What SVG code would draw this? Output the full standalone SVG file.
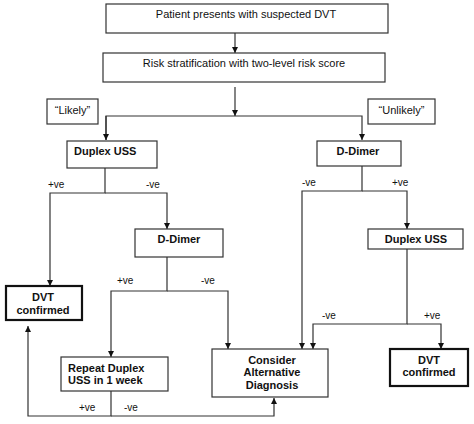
<svg xmlns="http://www.w3.org/2000/svg" width="474" height="424" viewBox="0 0 474 424">
<style>
.box{fill:#fff;stroke:#333;stroke-width:1.2}
.thick{fill:#fff;stroke:#111;stroke-width:2.2}
.t{font-family:"Liberation Sans",Arial,sans-serif;font-size:11px;fill:#111}
.b{font-family:"Liberation Sans",Arial,sans-serif;font-size:11px;font-weight:bold;fill:#111}
.l{font-family:"Liberation Sans",Arial,sans-serif;font-size:10px;fill:#111}
.c{fill:none;stroke:#333;stroke-width:1.2}
</style>
<defs>
<marker id="a" viewBox="0 0 8 8" refX="8" refY="4" markerWidth="6" markerHeight="6" markerUnits="userSpaceOnUse" orient="auto">
<path d="M0,0 L8,4 L0,8 z" fill="#111"/>
</marker>
</defs>
<rect width="474" height="424" fill="#fff"/>
<g id="connectors">
<path class="c" d="M235,33 V53" marker-end="url(#a)"/>
<path class="c" d="M235,87 V116" marker-end="url(#a)"/>
<path class="c" d="M106,140 V116 H362 V140" marker-end="url(#a)"/>
<path class="c" d="M106,116 V140" marker-end="url(#a)"/>
<path class="c" d="M105,168 V193 H50 V286" marker-end="url(#a)"/>
<path class="c" d="M105,193 H167 V229" marker-end="url(#a)"/>
<path class="c" d="M167,257 V291 H111 V357" marker-end="url(#a)"/>
<path class="c" d="M167,291 H228 V349" marker-end="url(#a)"/>
<path class="c" d="M111,391 V416 H28 V326" marker-end="url(#a)"/>
<path class="c" d="M111,416 H274 V398" marker-end="url(#a)"/>
<path class="c" d="M362,166 V191 H302 V349" marker-end="url(#a)"/>
<path class="c" d="M362,191 H407 V229" marker-end="url(#a)"/>
<path class="c" d="M407,249 V324 H313 V349" marker-end="url(#a)"/>
<path class="c" d="M407,324 H441 V349" marker-end="url(#a)"/>
<text class="l" x="48" y="188">+ve</text>
<text class="l" x="146" y="188">-ve</text>
<text class="l" x="117" y="284">+ve</text>
<text class="l" x="201" y="284">-ve</text>
<text class="l" x="79" y="411">+ve</text>
<text class="l" x="124" y="411">-ve</text>
<text class="l" x="302" y="186">-ve</text>
<text class="l" x="392" y="186">+ve</text>
<text class="l" x="322" y="319">-ve</text>
<text class="l" x="424" y="319">+ve</text>
</g>
<g id="n-patient"><rect class="box" x="106" y="4" width="282" height="29"/><text class="t" x="246" y="18" text-anchor="middle">Patient presents with suspected DVT</text></g>
<g id="n-risk"><rect class="box" x="103" y="53" width="282" height="29"/><text class="t" x="244" y="67" text-anchor="middle">Risk stratification with two-level risk score</text></g>
<g id="n-likely"><rect class="box" x="47" y="99" width="51" height="25"/><text class="t" x="72.5" y="114" text-anchor="middle">“Likely”</text></g>
<g id="n-unlikely"><rect class="box" x="368" y="99" width="67" height="25"/><text class="t" x="401.5" y="114" text-anchor="middle">“Unlikely”</text></g>
<g id="n-duplex1"><rect class="box" x="67" y="141" width="90" height="27"/><text class="b" x="74" y="155">Duplex USS</text></g>
<g id="n-ddimer1"><rect class="box" x="135" y="229" width="88" height="28"/><text class="b" x="179" y="243" text-anchor="middle">D-Dimer</text></g>
<g id="n-dvt1"><rect class="thick" x="6" y="286" width="76" height="34"/><text class="b" x="43" y="301" text-anchor="middle">DVT</text><text class="b" x="43" y="314" text-anchor="middle">confirmed</text></g>
<g id="n-repeat"><rect class="box" x="61" y="357" width="107" height="34"/><text class="b" x="68" y="372">Repeat Duplex</text><text class="b" x="68" y="384">USS in 1 week</text></g>
<g id="n-consider"><rect class="box" x="212" y="349" width="116" height="48"/><text class="b" x="272" y="364" text-anchor="middle">Consider</text><text class="b" x="272" y="376" text-anchor="middle">Alternative</text><text class="b" x="272" y="389" text-anchor="middle">Diagnosis</text></g>
<g id="n-ddimer2"><rect class="box" x="317" y="141" width="84" height="25"/><text class="b" x="358" y="155" text-anchor="middle">D-Dimer</text></g>
<g id="n-duplex2"><rect class="box" x="368" y="229" width="95" height="20"/><text class="b" x="416" y="243" text-anchor="middle">Duplex USS</text></g>
<g id="n-dvt2"><rect class="thick" x="390" y="349" width="78" height="37"/><text class="b" x="429" y="364" text-anchor="middle">DVT</text><text class="b" x="429" y="376" text-anchor="middle">confirmed</text></g>
</svg>
